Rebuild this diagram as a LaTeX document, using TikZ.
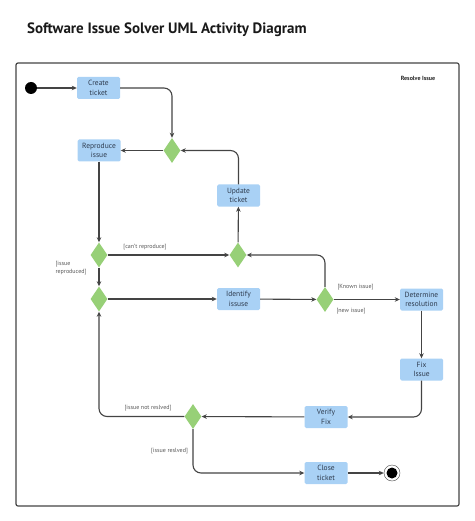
\documentclass[tikz,border=0pt]{standalone}
\usepackage{fontspec}
\setmainfont{PT Sans}
\usetikzlibrary{arrows.meta,shapes.geometric}
\definecolor{boxblue}{HTML}{A9D1F5}
\definecolor{dgreen}{HTML}{97D077}
\definecolor{linec}{HTML}{444444}
\definecolor{txtc}{HTML}{2E3B4E}
\definecolor{labc}{HTML}{555555}
\begin{document}
\begin{tikzpicture}[x=1pt,y=-1pt,
  act/.style={fill=boxblue, rounded corners=1.5pt, minimum width=43pt, minimum height=22pt, inner sep=0pt, font=\fontsize{7.5}{9.5}\selectfont, text=txtc, align=center},
  dec/.style={diamond, fill=dgreen, minimum width=17pt, minimum height=25pt, inner sep=0pt},
  flow/.style={draw=linec, line width=1.1pt, -{Stealth[length=5pt,width=4.5pt,inset=1.5pt]}},
  rc/.style={rounded corners=8pt},
  lbl/.style={font=\fontsize{6}{7.5}\selectfont, text=labc, inner sep=0pt}]
\useasboundingbox (0,0) rectangle (474,521);
\node[anchor=west, inner sep=0pt, font=\fontsize{15}{18}\selectfont\bfseries, text=black!90] (title) at (27,30) {Software Issue Solver UML Activity Diagram};
\draw[linec, line width=1.2pt, rounded corners=2pt] (16,63) rectangle (459,506);
\node[font=\fontsize{6}{7.5}\selectfont\bfseries, text=black!85] (pool) at (418,78) {Resolve Issue};

\node[circle, fill=black, minimum size=12pt, inner sep=0pt] (init) at (31,88) {};
\node[act] (create) at (98.5,88) {Create\\ticket};
\node[dec] (d1) at (172,150.5) {};
\node[act] (repro) at (99,150.5) {Reproduce\\issue};
\node[act] (update) at (238.5,195.5) {Update\\ticket};
\node[dec] (d2) at (99,255) {};
\node[dec] (d3) at (238,255) {};
\node[dec] (d4) at (99,299) {};
\node[act] (ident) at (238.5,299) {Identify\\issuse};
\node[dec] (d5) at (325,299.5) {};
\node[act] (determ) at (421.5,299.5) {Determine\\resolution};
\node[act] (fix) at (421.5,369.5) {Fix\\Issue};
\node[act] (verify) at (326,417) {Verify\\Fix};
\node[dec] (d6) at (193,416.5) {};
\node[act] (close) at (326,473) {Close\\ticket};
\node[circle, draw=linec, line width=0.4pt, fill=white, minimum size=16pt, inner sep=0pt] (fin) at (392,473) {};
\node[circle, fill=black, minimum size=11pt, inner sep=0pt] (fininner) at (392,473) {};

\draw[flow] (init) -- (create);
\draw[flow, rc] (create.east) -| (d1.north);
\draw[flow] (d1.west) -- (repro.east);
\draw[flow, rc] (update.north) |- (d1.east);
\draw[flow] (repro) -- (d2);
\draw[flow] (d2) -- (d3);
\draw[flow] (d3) -- (update);
\draw[flow] (d2) -- (d4);
\draw[flow] (d4) -- (ident);
\draw[flow] (ident) -- (d5);
\draw[flow, rc] (d5.north) |- (d3.east);
\draw[flow] (d5) -- (determ);
\draw[flow] (determ) -- (fix);
\draw[flow, rc] (fix.south) |- (verify.east);
\draw[flow] (verify) -- (d6);
\draw[flow, rc] (d6.west) -| (d4.south);
\draw[flow, rc] (d6.south) |- (close.west);
\draw[flow] (close) -- (fin);

\node[lbl] (l1) at (145,247) {[can't reproduce]};
\node[lbl, align=left] (l2) at (71,268) {[issue\\reproduced]};
\node[lbl] (l3) at (355.5,287) {[Known issue]};
\node[lbl] (l4) at (351,311) {[new issue]};
\node[lbl] (l5) at (148,408) {[issue not reslved]};
\node[lbl] (l6) at (169.5,451) {[issue reslved]};
\end{tikzpicture}
\end{document}
